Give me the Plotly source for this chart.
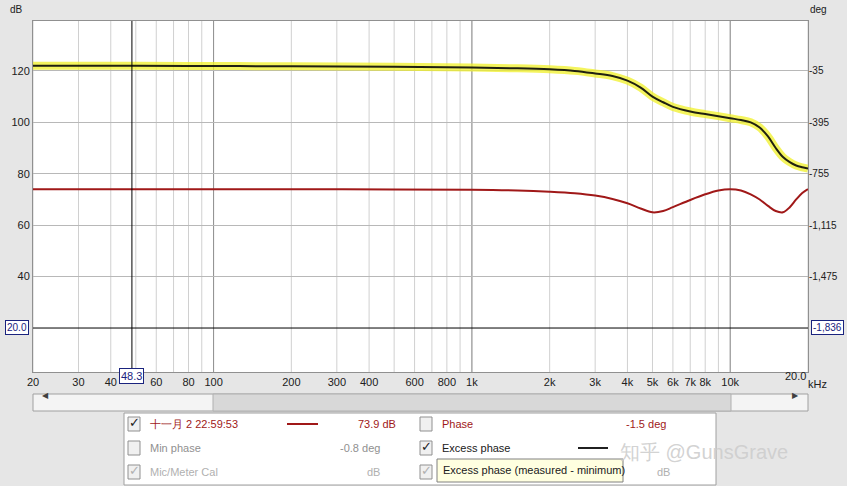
import plotly.graph_objects as go
import numpy as np

freq = [20, 50, 100, 200, 500, 1000, 1500, 2000, 2500, 3000, 3500, 4000, 4500, 5000, 5500, 6000, 7000, 8000, 9000, 10000, 11000, 12000, 13000, 14000, 15000, 16000, 17000, 18000, 19000, 20000]
spl_db = [74.0, 74.0, 74.0, 74.0, 73.9, 73.8, 73.5, 73.0, 72.4, 71.5, 70.2, 68.5, 66.5, 65.0, 65.5, 67.0, 69.8, 72.0, 73.5, 74.0, 73.5, 72.0, 70.0, 67.5, 65.5, 65.0, 67.0, 70.0, 72.5, 74.0]
excess_db = [122.0, 122.0, 121.9, 121.8, 121.6, 121.3, 121.0, 120.6, 120.0, 119.0, 118.0, 116.2, 113.5, 110.0, 107.8, 106.0, 104.2, 103.2, 102.4, 101.6, 100.9, 100.0, 98.0, 94.5, 90.0, 86.5, 84.5, 83.2, 82.5, 82.0]
excess_deg = [-35 + (v - 120) * 18 for v in excess_db]

left_ticks = [40, 60, 80, 100, 120]
right_ticks = [-1475, -1115, -755, -395, -35]
x_ticks = [20, 30, 40, 60, 80, 100, 200, 300, 400, 600, 800, 1000, 2000, 3000, 4000, 5000, 6000, 7000, 8000, 10000]
x_labels = ["20", "30", "40", "60", "80", "100", "200", "300", "400", "600", "800", "1k", "2k", "3k", "4k", "5k", "6k", "7k", "8k", "10k"]

ylo, yhi = 2.9, 139.4
fig = go.Figure()
fig.add_trace(go.Scatter(x=freq, y=spl_db, mode="lines", line=dict(color="#a01818", width=2, shape="spline"), showlegend=False))
fig.add_trace(go.Scatter(x=freq, y=excess_deg, yaxis="y2", mode="lines", line=dict(color="rgba(240,240,40,0.75)", width=8, shape="spline"), showlegend=False))
fig.add_trace(go.Scatter(x=freq, y=excess_deg, yaxis="y2", mode="lines", line=dict(color="#202010", width=2, shape="spline"), showlegend=False))

minor = []
for d in [10, 100, 1000, 10000]:
    for m in range(1, 10):
        f = d * m
        if 20 <= f <= 20000:
            minor.append(f)
shapes = []
for f in minor:
    shapes.append(dict(type="line", xref="x", yref="paper", x0=f, x1=f, y0=0, y1=1, line=dict(color="#d0d0d0", width=1), layer="below"))
for f in [100, 1000, 10000]:
    shapes.append(dict(type="line", xref="x", yref="paper", x0=f, x1=f, y0=0, y1=1, line=dict(color="#909090", width=1), layer="below"))
shapes.append(dict(type="line", xref="x", yref="paper", x0=48.3, x1=48.3, y0=0, y1=1, line=dict(color="black", width=1)))
shapes.append(dict(type="line", xref="paper", yref="y", x0=0, x1=1, y0=20, y1=20, line=dict(color="black", width=1)))

def px(x): return (x - 33) / 775
def py(y): return (372 - y) / 351
shapes.append(dict(type="rect", xref="paper", yref="paper", x0=px(33), x1=px(808), y0=py(394), y1=py(411), fillcolor="#f4f4f4", line=dict(color="#a0a0a0", width=1)))
shapes.append(dict(type="rect", xref="paper", yref="paper", x0=px(213), x1=px(731), y0=py(394), y1=py(411), fillcolor="#d8d8d8", line=dict(color="#b0b0b0", width=1)))
shapes.append(dict(type="rect", xref="paper", yref="paper", x0=px(124), x1=px(716), y0=py(413), y1=py(485), fillcolor="white", line=dict(color="#a0a0a0", width=1)))
for (cx, cy) in [(134, 424), (134, 448), (134, 472), (426, 424), (426, 448), (426, 472)]:
    shapes.append(dict(type="rect", xref="paper", yref="paper", x0=px(cx-6), x1=px(cx+6), y0=py(cy+7), y1=py(cy-7), fillcolor="#f0f0f0", line=dict(color="#909090", width=1)))
shapes.append(dict(type="line", xref="paper", yref="paper", x0=px(287), x1=px(318), y0=py(424), y1=py(424), line=dict(color="#a01818", width=2)))
shapes.append(dict(type="line", xref="paper", yref="paper", x0=px(578), x1=px(608), y0=py(448), y1=py(448), line=dict(color="#202020", width=2)))
shapes.append(dict(type="rect", xref="paper", yref="paper", x0=px(437), x1=px(623), y0=py(482), y1=py(459), fillcolor="#ffffe0", line=dict(color="#808080", width=1)))

ann = []
def t(x, y, s, color="#202020", size=11, xa="left", **kw):
    ann.append(dict(xref="paper", yref="paper", x=px(x), y=py(y), text=s, showarrow=False, xanchor=xa, yanchor="middle", font=dict(size=size, color=color, family="Liberation Sans"), **kw))
for (cx, cy, grey) in [(134, 422, False), (134, 470, True), (426, 446, False), (426, 470, True)]:
    t(cx, cy, "✓", color="#b0b0b0" if grey else "#202020", size=13, xa="center")
t(148, 424, "十一月 2 22:59:53", "#a01818")
t(398, 424, "73.9 dB", "#a01818", xa="right")
t(148, 448, "Min phase", "#909090")
t(382, 448, "-0.8 deg", "#909090", xa="right")
t(148, 472, "Mic/Meter Cal", "#b0b0b0")
t(382, 472, "dB", "#b0b0b0", xa="right")
t(440, 424, "Phase", "#a01818")
t(668, 424, "-1.5 deg", "#a01818", xa="right")
t(440, 448, "Excess phase")
t(441, 470, "Excess phase (measured - minimum)", size=11)
t(672, 472, "dB", "#b0b0b0", xa="right")
t(618, 452, "知乎 @GunsGrave", "rgba(205,205,205,0.9)", size=20)
t(8, 10, "dB", size=10)
t(808, 10, "deg", size=10)
t(817, 384, "kHz", size=11, xa="center")
t(5, 327, "20.0", "#1a237e", size=10, bordercolor="#1a237e", bgcolor="white", borderpad=1)
t(811, 327, "-1,836", "#1a237e", size=10, bordercolor="#1a237e", bgcolor="white", borderpad=1)
ann.append(dict(xref="x", yref="paper", x=np.log10(48.3), y=py(384), text="48.3", showarrow=False, font=dict(size=11, color="#1a237e", family="Liberation Sans"), bordercolor="#1a237e", bgcolor="white", borderpad=1))
ann.append(dict(xref="x", yref="paper", x=np.log10(20000), y=py(384), text="20.0", showarrow=False, xanchor="right", font=dict(size=11, color="#202020", family="Liberation Sans")))
ann.append(dict(xref="paper", yref="paper", x=px(40), y=py(402), text="◀", showarrow=False, font=dict(size=8, color="#404040")))
ann.append(dict(xref="paper", yref="paper", x=px(801), y=py(402), text="▶", showarrow=False, font=dict(size=8, color="#404040")))

fig.update_layout(
    width=847, height=486, margin=dict(l=33, r=39, t=21, b=114, autoexpand=False),
    paper_bgcolor="#e6e6e6", plot_bgcolor="white",
    font=dict(family="Liberation Sans", size=11, color="#202020"),
    xaxis=dict(type="log", range=[np.log10(20), np.log10(20000)], tickvals=x_ticks, ticktext=x_labels, showgrid=False, zeroline=False, ticks="", mirror=True, showline=True, linecolor="#909090"),
    yaxis=dict(range=[ylo, yhi], tickvals=left_ticks, showgrid=True, gridcolor="#b8b8b8", zeroline=False, ticks="", showline=True, linecolor="#909090", mirror=True),
    yaxis2=dict(overlaying="y", side="right", range=[-35 + (ylo - 120) * 18, -35 + (yhi - 120) * 18], tickvals=right_ticks, ticktext=["-1,475", "-1,115", "-755", "-395", "-35"], showgrid=False, zeroline=False, ticks="", tickfont=dict(size=10)),
    shapes=shapes, annotations=ann,
)
fig.write_html("out.html", config={"displayModeBar": False}, post_script="document.body.style.margin='0';document.body.style.overflow='hidden';")
